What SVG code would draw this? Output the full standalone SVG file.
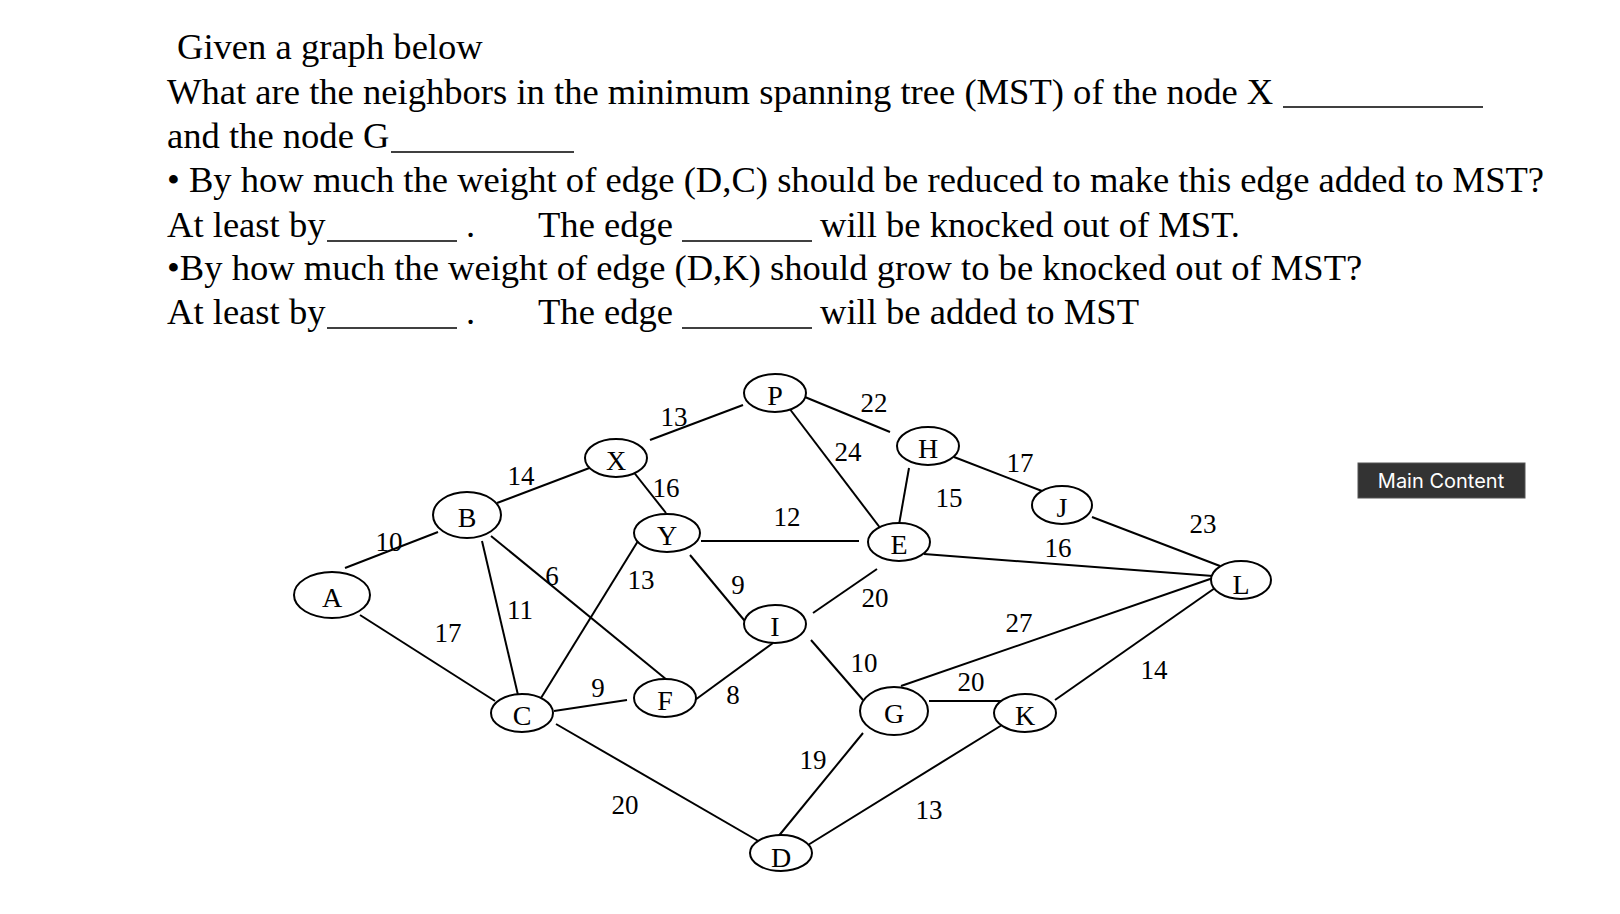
<svg xmlns="http://www.w3.org/2000/svg" width="1620" height="914" viewBox="0 0 1620 914">
<style>
.q{font-family:"Liberation Serif",serif;font-size:36.6px;fill:#000}
.n{fill:#fff;stroke:#000;stroke-width:2}
.nl{font-family:"Liberation Serif",serif;font-size:28px;text-anchor:middle;dominant-baseline:central}
.w{font-family:"Liberation Serif",serif;font-size:27px;text-anchor:middle;dominant-baseline:central}
.e line{stroke:#000;stroke-width:2}
.u{stroke:#000;stroke-width:1.5}
</style>
<rect width="1620" height="914" fill="#fff"/>
<g id="question">
<text class="q" x="177" y="59">Given a graph below</text>
<text class="q" x="167" y="104">What are the neighbors in the minimum spanning tree (MST) of the node X</text>
<line class="u" x1="1283" y1="107" x2="1483" y2="107"/>
<text class="q" x="167" y="148">and the node G</text>
<line class="u" x1="391" y1="152" x2="574" y2="152"/>
<text class="q" x="167" y="192">• By how much the weight of edge (D,C) should be reduced to make this edge added to MST?</text>
<text class="q" x="167" y="237">At least by</text>
<line class="u" x1="327" y1="241" x2="457" y2="241"/>
<text class="q" x="466" y="237">.</text>
<text class="q" x="538" y="237">The edge</text>
<line class="u" x1="682" y1="241" x2="812" y2="241"/>
<text class="q" x="820" y="237">will be knocked out of MST.</text>
<text class="q" x="167" y="280">•By how much the weight of edge (D,K) should grow to be knocked out of MST?</text>
<text class="q" x="167" y="324">At least by</text>
<line class="u" x1="327" y1="328" x2="457" y2="328"/>
<text class="q" x="466" y="324">.</text>
<text class="q" x="538" y="324">The edge</text>
<line class="u" x1="682" y1="328" x2="812" y2="328"/>
<text class="q" x="820" y="324">will be added to MST</text>
</g>
<g id="edges" class="e">
<line x1="345" y1="568" x2="438" y2="532"/>
<line x1="360" y1="615" x2="495" y2="701"/>
<line x1="497" y1="503" x2="592" y2="467"/>
<line x1="482" y1="541" x2="518" y2="695"/>
<line x1="491" y1="536" x2="667" y2="680"/>
<line x1="650" y1="440" x2="743" y2="405"/>
<line x1="632" y1="470" x2="666" y2="513"/>
<line x1="789" y1="408" x2="884" y2="533"/>
<line x1="800" y1="395" x2="890" y2="432"/>
<line x1="701" y1="541" x2="859" y2="541"/>
<line x1="690" y1="555" x2="749" y2="626"/>
<line x1="638" y1="541" x2="541" y2="698"/>
<line x1="909" y1="468" x2="897" y2="536"/>
<line x1="877" y1="569" x2="813" y2="613"/>
<line x1="773" y1="643" x2="695" y2="700"/>
<line x1="811" y1="640" x2="863" y2="700"/>
<line x1="554" y1="711" x2="627" y2="700"/>
<line x1="556" y1="724" x2="760" y2="842"/>
<line x1="863" y1="733" x2="777" y2="838"/>
<line x1="954" y1="457" x2="1042" y2="491"/>
<line x1="1092" y1="517" x2="1220" y2="566"/>
<line x1="924" y1="554" x2="1213" y2="576"/>
<line x1="901" y1="686" x2="1213" y2="578"/>
<line x1="1055" y1="700" x2="1215" y2="588"/>
<line x1="929" y1="701" x2="1002" y2="701"/>
<line x1="1002" y1="725" x2="808" y2="845"/>
</g>
<g id="weights">
<text class="w" x="389" y="542">10</text>
<text class="w" x="521" y="476">14</text>
<text class="w" x="674" y="417">13</text>
<text class="w" x="666" y="488">16</text>
<text class="w" x="787" y="517">12</text>
<text class="w" x="848" y="452">24</text>
<text class="w" x="874" y="403">22</text>
<text class="w" x="552" y="576">6</text>
<text class="w" x="641" y="580">13</text>
<text class="w" x="520" y="610">11</text>
<text class="w" x="448" y="633">17</text>
<text class="w" x="738" y="585">9</text>
<text class="w" x="875" y="598">20</text>
<text class="w" x="864" y="663">10</text>
<text class="w" x="598" y="688">9</text>
<text class="w" x="733" y="695">8</text>
<text class="w" x="813" y="760">19</text>
<text class="w" x="625" y="805">20</text>
<text class="w" x="949" y="498">15</text>
<text class="w" x="1020" y="463">17</text>
<text class="w" x="1203" y="524">23</text>
<text class="w" x="1058" y="548">16</text>
<text class="w" x="1019" y="623">27</text>
<text class="w" x="971" y="682">20</text>
<text class="w" x="1154" y="670">14</text>
<text class="w" x="929" y="810">13</text>
</g>
<g id="A"><ellipse class="n" cx="332" cy="595" rx="38" ry="23"/><text class="nl" x="332" y="597">A</text></g>
<g id="B"><ellipse class="n" cx="467" cy="515" rx="34" ry="23"/><text class="nl" x="467" y="517">B</text></g>
<g id="X"><ellipse class="n" cx="616" cy="458" rx="31" ry="19"/><text class="nl" x="616" y="460">X</text></g>
<g id="P"><ellipse class="n" cx="775" cy="393" rx="31" ry="19"/><text class="nl" x="775" y="395">P</text></g>
<g id="Y"><ellipse class="n" cx="667" cy="533" rx="33" ry="19"/><text class="nl" x="667" y="535">Y</text></g>
<g id="E"><ellipse class="n" cx="899" cy="542" rx="31" ry="19"/><text class="nl" x="899" y="544">E</text></g>
<g id="H"><ellipse class="n" cx="928" cy="446" rx="31" ry="19"/><text class="nl" x="928" y="448">H</text></g>
<g id="J"><ellipse class="n" cx="1062" cy="505" rx="30" ry="19"/><text class="nl" x="1062" y="507">J</text></g>
<g id="L"><ellipse class="n" cx="1241" cy="580" rx="30" ry="19"/><text class="nl" x="1241" y="584">L</text></g>
<g id="I"><ellipse class="n" cx="775" cy="624" rx="31" ry="19"/><text class="nl" x="775" y="626">I</text></g>
<g id="F"><ellipse class="n" cx="665" cy="698" rx="31" ry="19"/><text class="nl" x="665" y="700">F</text></g>
<g id="C"><ellipse class="n" cx="522" cy="713" rx="31" ry="19"/><text class="nl" x="522" y="715">C</text></g>
<g id="G"><ellipse class="n" cx="894" cy="711" rx="34" ry="24"/><text class="nl" x="894" y="713">G</text></g>
<g id="K"><ellipse class="n" cx="1025" cy="713" rx="31" ry="19"/><text class="nl" x="1025" y="715">K</text></g>
<g id="D"><ellipse class="n" cx="781" cy="853" rx="31" ry="18"/><text class="nl" x="781" y="857">D</text></g>
<g id="tooltip"><rect x="1358" y="463" width="167" height="35" fill="#333" stroke="#555"/><text x="1441" y="481" font-family="Inter,sans-serif" font-size="20" fill="#fff" text-anchor="middle" dominant-baseline="central">Main Content</text></g>
</svg>
